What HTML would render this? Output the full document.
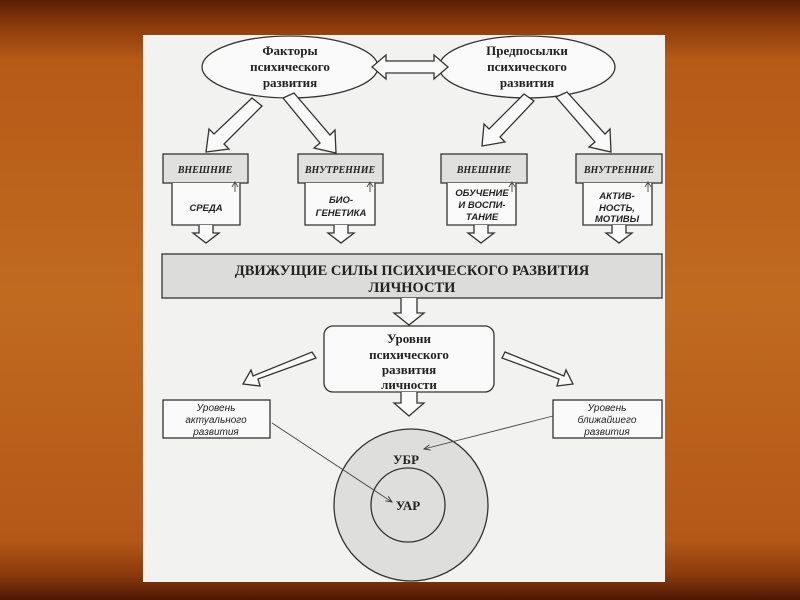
<!DOCTYPE html>
<html><head><meta charset="utf-8"><style>
html,body{margin:0;padding:0;width:800px;height:600px;overflow:hidden}
body{background:linear-gradient(180deg,#5a1e06 0px,#8a3a0c 25px,#b65a18 60px,#c06a20 300px,#b45818 540px,#8a3a0c 575px,#4a1804 600px)}
svg{position:absolute;left:0;top:0}
</style></head><body>
<svg width="800" height="600" viewBox="0 0 800 600" font-family="'Liberation Serif','Noto Serif CJK SC',serif">
<defs><marker id="a" markerWidth="8" markerHeight="8" refX="7" refY="4" orient="auto"><path d="M0,1 L7,4 L0,7" fill="none" stroke="#333" stroke-width="1"/></marker></defs>
<rect x="143" y="35" width="522" height="547" fill="#f2f2f0"/>
<g stroke="#333" stroke-width="1.3" fill="#fafafa">
<ellipse cx="290" cy="67" rx="88" ry="31"/>
<ellipse cx="527" cy="67" rx="88" ry="31"/>
<path d="M372,67 L386,55 L386,61 L434,61 L434,55 L448,67 L434,79 L434,73 L386,73 L386,79 Z"/>
<path d="M252,98 L262,106 L224,144 L229,149 L206,152 L209,129 L214,134 Z"/>
<path d="M283,98 L294,93 L330,135 L335,130 L336,153 L314,148 L320,143 Z"/>
<path d="M524,94 L534,101 L500,137 L505,142 L482,146 L484,124 L489,129 Z"/>
<path d="M556,97 L567,92 L605,134 L610,129 L611,152 L589,147 L595,142 Z"/>
<rect x="163" y="154" width="85" height="29" fill="#e0e0de"/>
<rect x="298" y="154" width="85" height="29" fill="#e0e0de"/>
<rect x="441" y="154" width="86" height="29" fill="#e0e0de"/>
<rect x="576" y="154" width="86" height="29" fill="#e0e0de"/>
<path d="M172,183 L172,225 L240,225 L240,183" fill="#fafafa"/>
<path d="M305,183 L305,225 L375,225 L375,183" fill="#fafafa"/>
<path d="M447,183 L447,225 L516,225 L516,183" fill="#fafafa"/>
<path d="M583,183 L583,225 L652,225 L652,183" fill="#fafafa"/>
<path d="M199,225 L199,233 L193,233 L206,243 L219,233 L213,233 L213,225" fill="#fafafa"/>
<path d="M334,225 L334,233 L328,233 L341,243 L354,233 L348,233 L348,225" fill="#fafafa"/>
<path d="M474,225 L474,233 L468,233 L481,243 L494,233 L488,233 L488,225" fill="#fafafa"/>
<path d="M612,225 L612,233 L606,233 L619,243 L632,233 L626,233 L626,225" fill="#fafafa"/>
<rect x="162" y="254" width="500" height="44" fill="#dcdcda"/>
<path d="M401,298 L401,313 L394,313 L409,325 L424,313 L417,313 L417,298" fill="#fafafa"/>
<rect x="324" y="326" width="170" height="66" rx="9" fill="#fafafa"/>
<path d="M401,392 L401,403 L394,403 L409,416 L424,403 L417,403 L417,392" fill="#fafafa"/>
<path d="M312,352 L316,358 L258,379 L260,386 L243,384 L251,370 L253,376 Z"/>
<path d="M505,352 L502,358 L559,379 L557,386 L573,384 L566,370 L564,376 Z"/>
<rect x="163" y="400" width="107" height="38"/>
<rect x="553" y="400" width="109" height="38"/>
<ellipse cx="411" cy="505" rx="77" ry="76" fill="#dededc"/>
<circle cx="408" cy="505" r="37" fill="#dededc"/>
</g>
<g stroke="#444" stroke-width="0.9" fill="none">
<path d="M235,183 L235,192 M232,187 L235,182 L238,187"/>
<path d="M370,183 L370,192 M367,187 L370,182 L373,187"/>
<path d="M512,183 L512,192 M509,187 L512,182 L515,187"/>
<path d="M648,183 L648,192 M645,187 L648,182 L651,187"/>
<line x1="272" y1="423" x2="392" y2="502" marker-end="url(#a)"/>
<line x1="553" y1="416" x2="424" y2="449" marker-end="url(#a)"/>
</g>
<g fill="#222" font-weight="bold" text-anchor="middle" font-size="13">
<text x="290" y="55">Факторы</text><text x="290" y="71">психического</text><text x="290" y="87">развития</text>
<text x="527" y="55">Предпосылки</text><text x="527" y="71">психического</text><text x="527" y="87">развития</text>
<text x="409" y="343">Уровни</text><text x="409" y="359">психического</text><text x="409" y="374">развития</text><text x="409" y="389">личности</text>
<text x="412" y="275" font-size="14.5">ДВИЖУЩИЕ СИЛЫ ПСИХИЧЕСКОГО РАЗВИТИЯ</text>
<text x="412" y="292" font-size="14.5">ЛИЧНОСТИ</text>
<text x="406" y="464">УБР</text><text x="408" y="510">УАР</text>
</g>
<g fill="#222" font-weight="bold" font-style="italic" text-anchor="middle" font-size="10" font-family="'Liberation Serif',serif">
<text x="205" y="173">ВНЕШНИЕ</text><text x="340" y="173">ВНУТРЕННИЕ</text><text x="484" y="173">ВНЕШНИЕ</text><text x="619" y="173">ВНУТРЕННИЕ</text>
</g>
<g fill="#222" font-weight="bold" font-style="italic" text-anchor="middle" font-size="9.5" font-family="'Liberation Sans',sans-serif">
<text x="206" y="211">СРЕДА</text>
<text x="341" y="203">БИО-</text><text x="341" y="216">ГЕНЕТИКА</text>
<text x="482" y="196">ОБУЧЕНИЕ</text><text x="482" y="208">И ВОСПИ-</text><text x="482" y="220">ТАНИЕ</text>
<text x="617" y="199">АКТИВ-</text><text x="617" y="211">НОСТЬ,</text><text x="617" y="222">МОТИВЫ</text>
</g>
<g fill="#222" font-style="italic" text-anchor="middle" font-size="10" font-family="'Liberation Sans',sans-serif">
<text x="216" y="411">Уровень</text><text x="216" y="423">актуального</text><text x="216" y="435">развития</text>
<text x="607" y="411">Уровень</text><text x="607" y="423">ближайшего</text><text x="607" y="435">развития</text>
</g>
</svg>
</body></html>
